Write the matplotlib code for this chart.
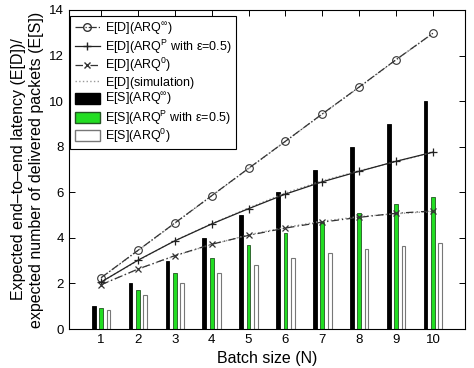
import matplotlib
matplotlib.use("Agg")
import matplotlib.pyplot as plt
from matplotlib.patches import Patch
from matplotlib.lines import Line2D
import numpy as np

plt.rcParams['font.family'] = ['Liberation Sans', 'DejaVu Sans']
plt.rcParams['mathtext.fontset'] = 'custom'
plt.rcParams['mathtext.rm'] = 'Liberation Sans'
plt.rcParams['mathtext.it'] = 'Liberation Sans'

batch = [1, 2, 3, 4, 5, 6, 7, 8, 9, 10]
es_inf = [1, 2, 3, 4, 5, 6, 7, 8, 9, 10]
es_p = [0.91, 1.72, 2.46, 3.10, 3.69, 4.21, 4.71, 5.11, 5.50, 5.81]
es_0 = [0.82, 1.49, 2.02, 2.46, 2.81, 3.10, 3.33, 3.52, 3.65, 3.77]
ed_inf = [2.25, 3.45, 4.65, 5.85, 7.05, 8.24, 9.44, 10.62, 11.82, 12.98]
ed_p = [2.06, 3.02, 3.87, 4.61, 5.28, 5.92, 6.46, 6.92, 7.36, 7.76]
ed_0 = [1.94, 2.63, 3.22, 3.72, 4.11, 4.43, 4.69, 4.90, 5.08, 5.18]
sim_inf = [2.24, 3.44, 4.64, 5.84, 7.04, 8.23, 9.43, 10.61, 11.81, 12.97]
sim_p = [2.07, 3.00, 3.88, 4.62, 5.31, 5.97, 6.50, 6.94, 7.35, 7.75]
sim_0 = [1.95, 2.62, 3.21, 3.71, 4.13, 4.46, 4.73, 4.93, 5.06, 5.16]

fig = plt.figure(figsize=(4.74, 3.68), dpi=100)
ax = fig.add_axes([69/474, 1-329/368, (465-69)/474, (329-10)/368])

x = np.array(batch, dtype=float)
w = 0.1
ax.bar(x - 0.2, es_inf, width=w, color='black', edgecolor='black', linewidth=0.6, zorder=2)
ax.bar(x, es_p, width=w, color='#22dd22', edgecolor='#225522', linewidth=0.6, zorder=2)
ax.bar(x + 0.2, es_0, width=w, color='white', edgecolor='#777777', linewidth=0.8, zorder=2)

ax.plot(x, sim_inf, ':', color='#999999', lw=1.0, zorder=3)
ax.plot(x, sim_p, ':', color='#999999', lw=1.0, zorder=3)
ax.plot(x, sim_0, ':', color='#999999', lw=1.0, zorder=3)
ax.plot(x, ed_inf, '-.', color='#333333', lw=0.9, marker='o', ms=5.5, mfc='none', mec='#333333', mew=0.8, zorder=4)
ax.plot(x, ed_p, '-', color='#222222', lw=0.9, marker='+', ms=6, mew=0.9, zorder=4)
ax.plot(x, ed_0, '-.', color='#333333', lw=0.9, marker='x', ms=4.5, mew=0.9, dashes=(6, 2.5, 1, 2.5), zorder=4)

ax.set_xlim(0.13, 10.87)
ax.set_ylim(0, 14)
ax.set_xticks(batch)
ax.set_yticks(range(0, 15, 2))
ax.tick_params(direction='in', top=True, right=True, labelsize=9.5, length=4, width=0.7)
for s in ax.spines.values():
    s.set_linewidth(0.8)
ax.set_xlabel('Batch size (N)', fontsize=11.5, labelpad=4)
ax.set_ylabel('Expected end\u2013to\u2013end latency (E[D])/\nexpected number of delivered packets (E[S])',
              fontsize=11.5, labelpad=4)

handles = [
    Line2D([], [], ls='-.', color='#333333', lw=0.9, marker='o', ms=5.5, mfc='none', mec='#333333'),
    Line2D([], [], ls='-', color='#222222', lw=0.9, marker='+', ms=6),
    Line2D([], [], ls='-.', color='#333333', lw=0.9, marker='x', ms=4.5, dashes=(6, 2.5, 1, 2.5)),
    Line2D([], [], ls=':', color='#999999', lw=1.0),
    Patch(facecolor='black', edgecolor='black'),
    Patch(facecolor='#22dd22', edgecolor='#225522'),
    Patch(facecolor='white', edgecolor='#777777'),
]
labels = [r'E[D](ARQ$^{\infty}$)', r'E[D](ARQ$^{\mathrm{P}}$ with $\epsilon$=0.5)', r'E[D](ARQ$^{0}$)',
          r'E[D](simulation)$^{\,}$', r'E[S](ARQ$^{\infty}$)', r'E[S](ARQ$^{\mathrm{P}}$ with $\epsilon$=0.5)',
          r'E[S](ARQ$^{0}$)']
leg = ax.legend(handles, labels, loc='upper left', bbox_to_anchor=(0.0, 0.985), fontsize=9,
                frameon=True, fancybox=False, edgecolor='black', framealpha=1,
                handlelength=2.0, handleheight=1.0, labelspacing=0.02, borderaxespad=0.1,
                borderpad=0.35, handletextpad=0.45)
leg.get_frame().set_linewidth(0.8)

fig.savefig('out.png', dpi=100)
